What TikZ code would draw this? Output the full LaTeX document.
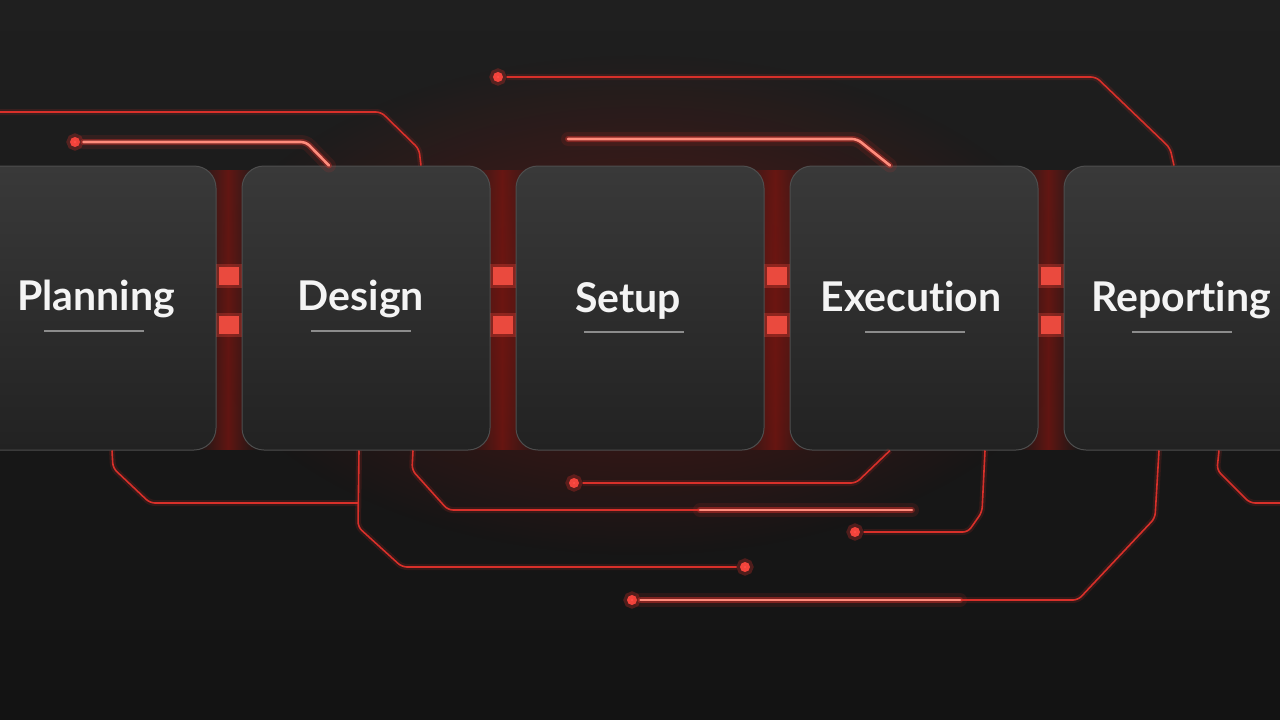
\documentclass[tikz,border=0pt]{standalone}
\usepackage{fontspec}
\setmainfont[Ligatures=NoCommon]{Lato}
\usetikzlibrary{calc, positioning, fadings}

\definecolor{bgtop}{HTML}{1F1F1F}
\definecolor{bgbot}{HTML}{131313}
\definecolor{boxtop}{HTML}{393939}
\definecolor{boxbot}{HTML}{222222}
\definecolor{boxedge}{HTML}{4E4E4E}
\definecolor{textcol}{HTML}{F4F4F4}
\definecolor{rulecol}{HTML}{8C8C8C}
\definecolor{tracered}{HTML}{D8302A}
\definecolor{hotcore}{HTML}{FF8C7C}
\definecolor{dotred}{HTML}{FF4D45}
\definecolor{linkred}{HTML}{EA4A3E}
\definecolor{glowred}{HTML}{7A1510}

\tikzfading[name=glowfade, inner color=transparent!0, outer color=transparent!100]
\tikzfading[name=bandfade, left color=transparent!100, right color=transparent!100, middle color=transparent!0]

\begin{document}
\begin{tikzpicture}[x=1pt, y=-1pt,
    stage/.style={rectangle, rounded corners=22pt, draw=boxedge, line width=1pt, top color=boxtop, bottom color=boxbot, minimum width=248pt, minimum height=284pt, inner sep=0pt},
    stagetext/.style={font=\fontsize{41}{46}\selectfont\bfseries, text=textcol, anchor=base, inner sep=0pt},
    rule/.style={draw=rulecol, line width=1.8pt},
    link/.style={rectangle, fill=linkred, minimum width=20pt, minimum height=18pt, inner sep=0pt, draw=linkred, draw opacity=0.3, line width=6pt},
    trace/.style={draw=tracered, line width=1.6pt, rounded corners=5pt, preaction={draw=tracered, line width=6pt, opacity=0.15}},
    hottrace/.style={draw=hotcore, line width=2.6pt, line cap=round, rounded corners=5pt, preaction={draw=tracered, line width=14pt, line cap=round, opacity=0.12}, preaction={draw=tracered, line width=6pt, line cap=round, opacity=0.4}},
    tracedot/.style={circle, fill=dotred, minimum size=10pt, inner sep=0pt, draw=tracered, draw opacity=0.3, line width=7pt}]

    \useasboundingbox (0,0) rectangle (1280,720);
    \clip (0,0) rectangle (1280,720);

    % Background and glow
    \shade[top color=bgtop, bottom color=bgbot] (0,0) rectangle (1280,720);
    \fill[glowred, path fading=glowfade, fill opacity=0.6] (640,305) ellipse (440 and 250);
    \fill[glowred, path fading=bandfade, fill opacity=0.75] (198,170) rectangle (258,450);
    \fill[glowred, path fading=bandfade, fill opacity=0.75] (472,170) rectangle (532,450);
    \fill[glowred, path fading=bandfade, fill opacity=0.75] (745,170) rectangle (805,450);
    \fill[glowred, path fading=bandfade, fill opacity=0.75] (1018,170) rectangle (1078,450);

    % Stages
    \node[stage] (planning) at (92,308) {};
    \node[stage, right=25pt of planning] (design) {};
    \node[stage, right=25pt of design] (setup) {};
    \node[stage, right=25pt of setup] (execution) {};
    \node[stage, right=25pt of execution] (reporting) {};

    % Labels
    \node[stagetext] (planning-text) at ([shift={(4,2)}]planning.center) {Planning};
    \node[stagetext] (design-text) at ([shift={(-5,2)}]design.center) {Design};
    \node[stagetext] (setup-text) at ([shift={(-12,4)}]setup.center) {Setup};
    \node[stagetext] (execution-text) at ([shift={(-3,3)}]execution.center) {Execution};
    \node[stagetext] (reporting-text) at ([shift={(-7,3)}]reporting.center) {Reporting};

    \draw[rule] ([shift={(-52,21)}]planning-text.base) -- ([shift={(48,21)}]planning-text.base);
    \draw[rule] ([shift={(-50,21)}]design-text.base) -- ([shift={(50,21)}]design-text.base);
    \draw[rule] ([shift={(-44,20)}]setup-text.base) -- ([shift={(56,20)}]setup-text.base);
    \draw[rule] ([shift={(-46,21)}]execution-text.base) -- ([shift={(54,21)}]execution-text.base);
    \draw[rule] ([shift={(-49,21)}]reporting-text.base) -- ([shift={(51,21)}]reporting-text.base);

    % Links between stages
    \node[link] (link1a) at ($(planning.east)!0.5!(design.west)+(0,-32)$) {};
    \node[link] (link1b) at ($(planning.east)!0.5!(design.west)+(0,17)$) {};
    \node[link] (link2a) at ($(design.east)!0.5!(setup.west)+(0,-32)$) {};
    \node[link] (link2b) at ($(design.east)!0.5!(setup.west)+(0,17)$) {};
    \node[link] (link3a) at ($(setup.east)!0.5!(execution.west)+(0,-32)$) {};
    \node[link] (link3b) at ($(setup.east)!0.5!(execution.west)+(0,17)$) {};
    \node[link] (link4a) at ($(execution.east)!0.5!(reporting.west)+(0,-32)$) {};
    \node[link] (link4b) at ($(execution.east)!0.5!(reporting.west)+(0,17)$) {};

    % Traces above
    \node[tracedot] (dot-a) at (75,142) {};
    \node[tracedot] (dot-b) at (498,77) {};
    \coordinate (edge-a) at (0,112);
    \coordinate (glow-a) at (568,139);
    \draw[trace] (edge-a) -- (381,112) -- (419,149) -- ([xshift=55pt]design.north);
    \draw[hottrace] (dot-a) -- (306,142) -- ([xshift=-37pt]design.north);
    \draw[trace] (dot-b) -- (1096,77) -- (1170,148) -- ([xshift=-14pt]reporting.north);
    \draw[hottrace] (glow-a) -- (857,139) -- ([xshift=-24pt]execution.north);

    % Traces below
    \node[tracedot] (dot-c) at (745,567) {};
    \node[tracedot] (dot-d) at (574,483) {};
    \node[tracedot] (dot-e) at (855,532) {};
    \node[tracedot] (dot-f) at (632,600) {};
    \coordinate (join-a) at (358,503);
    \coordinate (glow-b) at (912,510);
    \coordinate (glow-b-tail) at (700,510);
    \coordinate (glow-f) at (960,600);
    \coordinate (edge-b) at (1280,503);
    \draw[trace] ([xshift=20pt]planning.south) -- (113,468) -- (150,503) -- (join-a);
    \draw[trace] ([xshift=-7pt]design.south) -- (358,527) -- (402,567) -- (dot-c);
    \draw[trace] ([xshift=47pt]design.south) -- (412,470) -- (448,510) -- (glow-b);
    \draw[hottrace] (glow-b-tail) -- (glow-b);
    \draw[trace] (dot-d) -- (856,483) -- ([xshift=-24pt]execution.south);
    \draw[trace] (dot-e) -- (968,532) -- (982,512) -- ([xshift=71pt]execution.south);
    \draw[trace] (dot-f) -- (1078,600) -- (1155,518) -- ([xshift=-29pt]reporting.south);
    \draw[hottrace] (dot-f) -- (glow-f);
    \draw[trace] ([xshift=31pt]reporting.south) -- (1217,470) -- (1250,503) -- (edge-b);
\end{tikzpicture}
\end{document}
